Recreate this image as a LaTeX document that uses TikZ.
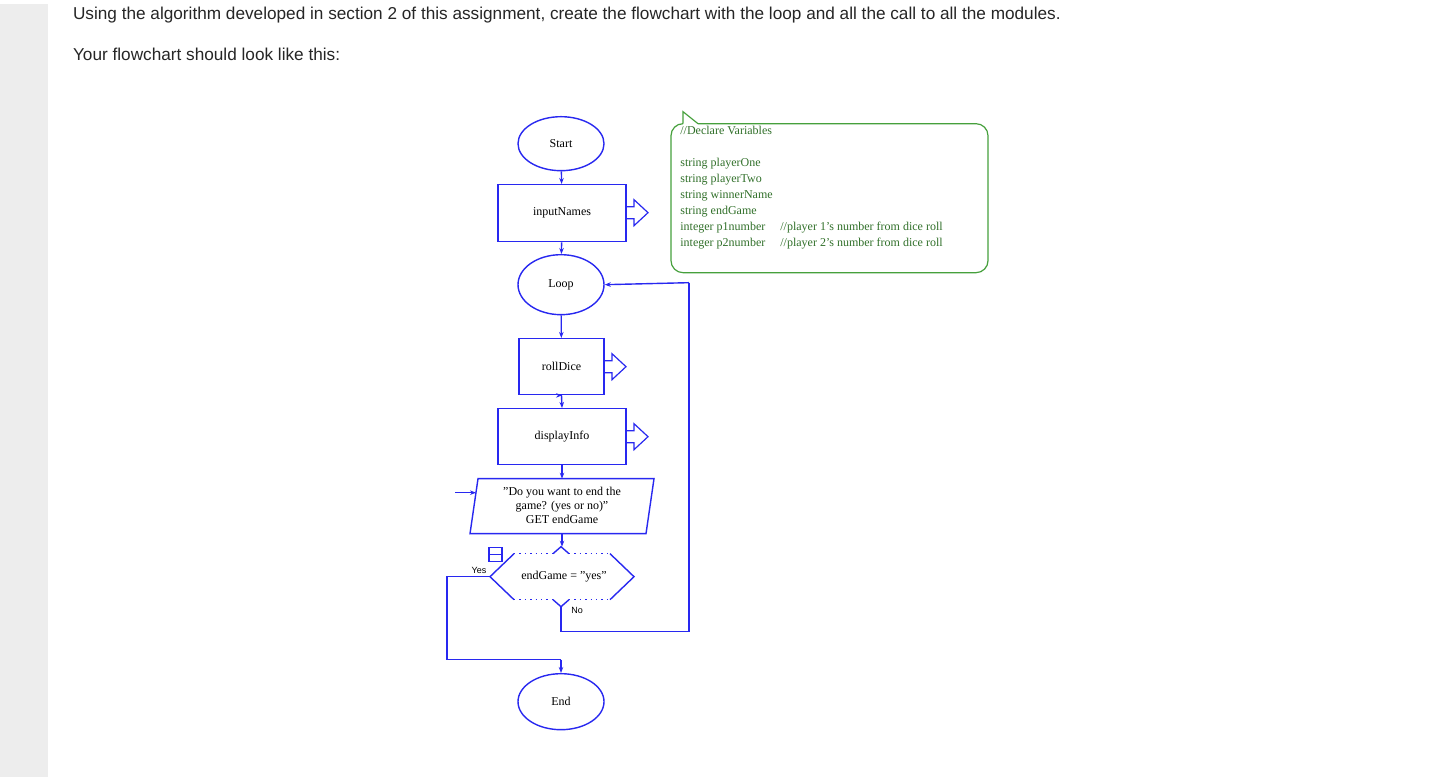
\documentclass[tikz,border=0pt]{standalone}
\usepackage{fontspec}
\setmainfont{Liberation Serif}
\newfontfamily\hdr{Liberation Sans}
\usetikzlibrary{arrows.meta,shapes.geometric}
\definecolor{fb}{RGB}{40,40,240}
\definecolor{gc}{RGB}{70,160,60}
\begin{document}
\begin{tikzpicture}[x=0.5pt,y=-0.5pt,
 fl/.style={draw=fb,line width=0.7pt},
 txt/.style={font=\fontsize{6}{7}\selectfont,align=center,inner sep=0},
 ar/.style={fl,-{Stealth[length=3pt]}},
 call/.style={fl,line width=0.6pt}]
\fill[white] (0,0) rectangle (1444,773);
\fill[black!7] (0,0) rectangle (48,773);
\node[anchor=west,font=\hdr\fontsize{8.6}{10}\selectfont,text=black!85] (h1) at (66,11) {Using the algorithm developed in section 2 of this assignment, create the flowchart with the loop and all the call to all the modules.};
\node[anchor=west,font=\hdr\fontsize{8.6}{10}\selectfont,text=black!85] (h2) at (66,51) {Your flowchart should look like this:};
% nodes
\node[fl,ellipse,minimum width=43pt,minimum height=27pt,txt] (start) at (561,140) {Start};
\node[fl,rectangle,minimum width=64pt,minimum height=28.5pt,txt] (inp) at (562,209.5) {inputNames};
\node[fl,ellipse,minimum width=43pt,minimum height=30pt,txt] (loop) at (561,281) {Loop};
\node[fl,rectangle,minimum width=42.5pt,minimum height=28pt,txt] (roll) at (561.5,363) {rollDice};
\node[fl,rectangle,minimum width=64pt,minimum height=28pt,txt] (disp) at (562,433) {displayInfo};
\draw[fl] (478,475) -- (654,475) -- (646,530) -- (470,530) -- cycle;
\node[txt] (ask) at (562,502) {"Do you want to end the\\ game? (yes or no)"\\ GET endGame};
\coordinate (asktop) at (562,475); \coordinate (askbot) at (562,530);
\node[txt] (dec) at (564,573) {endGame = "yes"};
\draw[fl] (514,550) -- (490,573) -- (514,596);
\draw[fl] (610,550) -- (634,573) -- (610,596);
\draw[fl,dotted] (514,550) -- (553,550) (569,550) -- (610,550);
\draw[fl,dotted] (514,596) -- (553,596) (569,596) -- (610,596);
\draw[fl] (553,550) -- (561,543) -- (569,550);
\draw[fl] (553,596) -- (561,603) -- (569,596);
\draw[fl] (489,544) rectangle (502,558) (489,551) -- (502,551);
\node[ellipse,fl,minimum width=43pt,minimum height=28pt,txt] (endn) at (561,698) {End};
% call arrows
\foreach \xx/\yy in {626/209, 604/363, 626/433}{
 \draw[call] (\xx,\yy-6) -- (\xx+8,\yy-6) -- (\xx+8,\yy-13) -- (\xx+22,\yy) -- (\xx+8,\yy+13) -- (\xx+8,\yy+6) -- (\xx,\yy+6);
}
% connectors
\draw[ar] (start) -- (inp);
\draw[ar] (inp) -- (loop);
\draw[ar] (loop) -- (roll);
\draw[ar] (roll) -- (disp|-roll.south) ;
\draw[ar] (roll.south) -- (disp.north);
\draw[ar] (disp) -- (asktop);
\draw[ar] (askbot) -- (562,543);
\coordinate (ent) at (455,489);
\draw[ar] (ent) -- (476,489);
\coordinate (nb) at (561,628);
\draw[fl] (561,603) -- (nb) -- (689,628) -- (689,279);
\draw[ar] (689,279) -- (loop.east);
\coordinate (yb) at (447,656);
\draw[fl] (490,573) -- (447,573) -- (yb) -- (561,656);
\draw[ar] (561,656) -- (endn.north);
\node[font=\hdr\fontsize{4.5}{5}\selectfont,inner sep=0] (yes) at (479,567) {Yes};
\node[font=\hdr\fontsize{4.5}{5}\selectfont,inner sep=0] (no) at (577,607) {No};
% comment
\draw[gc,line width=0.6pt,rounded corners=6pt] (683,120) -- (671,120) -- (671,269) -- (988,269) -- (988,120) -- (698,120);
\draw[gc,line width=0.6pt] (683,120) -- (683,108) -- (698,120);
\node[anchor=north west,align=left,inner sep=0,text=gc!70!black,font=\fontsize{6}{8}\selectfont] (cmt) at (680,122) {//Declare Variables\\[8pt] string playerOne\\ string playerTwo\\ string winnerName\\ string endGame\\ integer p1number \quad //player 1's number from dice roll\\ integer p2number \quad //player 2's number from dice roll};
\end{tikzpicture}
\end{document}
